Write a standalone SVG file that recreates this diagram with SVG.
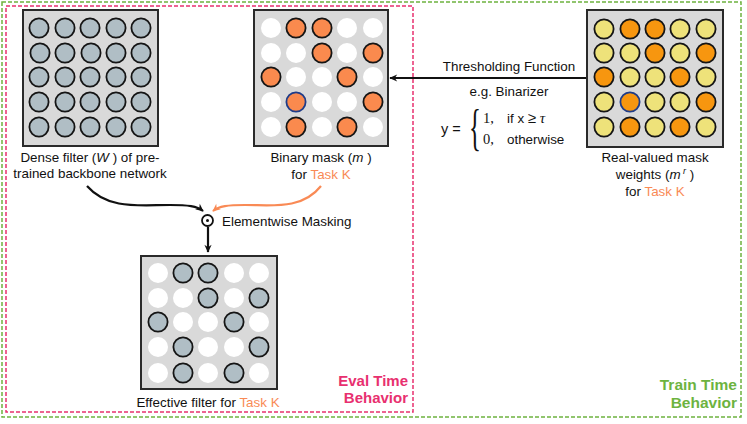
<svg xmlns="http://www.w3.org/2000/svg" width="747" height="424" viewBox="0 0 747 424">
<style>
text{font-family:"Liberation Sans","DejaVu Sans",sans-serif;font-size:13.4px;fill:#111}
.box{fill:#d9d9d9;stroke:#2a2a2a;stroke-width:2}
.g{fill:#b0bec5;stroke:#151515;stroke-width:1.8}
.w{fill:#ffffff}
.o{fill:#fa8a4e;stroke:#151515;stroke-width:1.8}
.ob{fill:#fa8a4e;stroke:#1f3c88;stroke-width:1.8}
.y{fill:#eee27a;stroke:#151515;stroke-width:1.8}
.r{fill:#f7960f;stroke:#151515;stroke-width:1.8}
.rb{fill:#f7960f;stroke:#1f3c88;stroke-width:1.8}
.task{fill:#f98a55}
.serif{font-family:"Liberation Serif","DejaVu Serif",serif}
.it{font-style:italic}
.conn{fill:none;stroke-width:2.2}
.ev{font-weight:bold;fill:#e8306f;font-size:15px}
.tr{font-weight:bold;fill:#6db33f;font-size:15.5px}
</style>
<defs>
<marker id="ab" viewBox="0 0 10 10" refX="9" refY="5" markerWidth="8" markerHeight="8" orient="auto" markerUnits="userSpaceOnUse" style="overflow:visible">
<path d="M0,0.5 L10,5 L0,9.5 L3,5 z" fill="#111"/>
</marker>
<marker id="ao" viewBox="0 0 10 10" refX="9" refY="5" markerWidth="8" markerHeight="8" orient="auto" markerUnits="userSpaceOnUse" style="overflow:visible">
<path d="M0,0.5 L10,5 L0,9.5 L3,5 z" fill="#f98a55"/>
</marker>
</defs>
<rect width="747" height="424" fill="#ffffff"/>
<g id="train-region">
<rect x="2" y="2" width="739" height="415" fill="none" stroke="#6db33f" stroke-width="1.5" stroke-dasharray="4,2"/>
<text x="737" y="390" text-anchor="end" class="tr">Train Time</text>
<text x="737" y="408" text-anchor="end" class="tr">Behavior</text>
</g>
<g id="eval-region">
<rect x="6" y="6" width="407" height="406" fill="none" stroke="#e8306f" stroke-width="1.5" stroke-dasharray="4,2"/>
<text x="408" y="386" text-anchor="end" class="ev">Eval Time</text>
<text x="408" y="403" text-anchor="end" class="ev">Behavior</text>
</g>
<g id="dense-filter">
<rect class="box" x="23" y="10" width="135" height="136"/>
<g>
<circle class="g" cx="39" cy="28" r="9.6"/><circle class="g" cx="65" cy="28" r="9.6"/><circle class="g" cx="90" cy="28" r="9.6"/><circle class="g" cx="116" cy="28" r="9.6"/><circle class="g" cx="141" cy="28" r="9.6"/>
<circle class="g" cx="40" cy="53" r="9.6"/><circle class="g" cx="65" cy="53" r="9.6"/><circle class="g" cx="91" cy="53" r="9.6"/><circle class="g" cx="116" cy="53" r="9.6"/><circle class="g" cx="141" cy="53" r="9.6"/>
<circle class="g" cx="39" cy="77" r="9.6"/><circle class="g" cx="65" cy="77" r="9.6"/><circle class="g" cx="90" cy="77" r="9.6"/><circle class="g" cx="116" cy="77" r="9.6"/><circle class="g" cx="141" cy="77" r="9.6"/>
<circle class="g" cx="39" cy="102" r="9.6"/><circle class="g" cx="65" cy="102" r="9.6"/><circle class="g" cx="90" cy="102" r="9.6"/><circle class="g" cx="116" cy="102" r="9.6"/><circle class="g" cx="141" cy="102" r="9.6"/>
<circle class="g" cx="39" cy="127" r="9.6"/><circle class="g" cx="65" cy="127" r="9.6"/><circle class="g" cx="90" cy="127" r="9.6"/><circle class="g" cx="116" cy="127" r="9.6"/><circle class="g" cx="141" cy="127" r="9.6"/>
</g>
<text x="90" y="162" text-anchor="middle">Dense filter (<tspan class="it">W</tspan> ) of pre-</text>
<text x="90" y="178" text-anchor="middle">trained backbone network</text>
</g>
<g id="binary-mask">
<rect class="box" x="254" y="10" width="134" height="136"/>
<g>
<circle class="w" cx="271" cy="28" r="10"/><circle class="o" cx="296" cy="28" r="9.6"/><circle class="o" cx="322" cy="28" r="9.6"/><circle class="w" cx="347" cy="28" r="10"/><circle class="w" cx="373" cy="28" r="10"/>
<circle class="w" cx="271" cy="53" r="10"/><circle class="w" cx="296" cy="53" r="10"/><circle class="o" cx="322" cy="53" r="9.6"/><circle class="w" cx="347" cy="53" r="10"/><circle class="o" cx="373" cy="53" r="9.6"/>
<circle class="o" cx="271" cy="77" r="9.6"/><circle class="w" cx="296" cy="77" r="10"/><circle class="w" cx="322" cy="77" r="10"/><circle class="o" cx="347" cy="77" r="9.6"/><circle class="w" cx="373" cy="77" r="10"/>
<circle class="w" cx="271" cy="102" r="10"/><circle class="ob" cx="296" cy="102" r="9.6"/><circle class="w" cx="322" cy="102" r="10"/><circle class="w" cx="347" cy="102" r="10"/><circle class="o" cx="373" cy="102" r="9.6"/>
<circle class="w" cx="271" cy="127" r="10"/><circle class="o" cx="296" cy="127" r="9.6"/><circle class="w" cx="322" cy="127" r="10"/><circle class="o" cx="347" cy="127" r="9.6"/><circle class="w" cx="373" cy="127" r="10"/>
</g>
<text x="321" y="162" text-anchor="middle">Binary mask (<tspan class="it">m</tspan> )</text>
<text x="321" y="179" text-anchor="middle">for <tspan class="task">Task K</tspan></text>
</g>
<g id="real-mask">
<rect class="box" x="587" y="10" width="136" height="137"/>
<g>
<circle class="y" cx="604" cy="29" r="9.6"/><circle class="r" cx="630" cy="29" r="9.6"/><circle class="r" cx="655" cy="29" r="9.6"/><circle class="y" cx="680" cy="29" r="9.6"/><circle class="y" cx="706" cy="29" r="9.6"/>
<circle class="y" cx="604" cy="53" r="9.6"/><circle class="y" cx="630" cy="53" r="9.6"/><circle class="r" cx="655" cy="53" r="9.6"/><circle class="y" cx="680" cy="53" r="9.6"/><circle class="r" cx="706" cy="53" r="9.6"/>
<circle class="r" cx="604" cy="77" r="9.6"/><circle class="y" cx="630" cy="77" r="9.6"/><circle class="y" cx="655" cy="77" r="9.6"/><circle class="r" cx="680" cy="77" r="9.6"/><circle class="y" cx="706" cy="77" r="9.6"/>
<circle class="y" cx="604" cy="102" r="9.6"/><circle class="rb" cx="630" cy="102" r="9.6"/><circle class="y" cx="655" cy="102" r="9.6"/><circle class="y" cx="680" cy="102" r="9.6"/><circle class="r" cx="706" cy="102" r="9.6"/>
<circle class="y" cx="604" cy="127" r="9.6"/><circle class="r" cx="630" cy="127" r="9.6"/><circle class="y" cx="655" cy="127" r="9.6"/><circle class="r" cx="680" cy="127" r="9.6"/><circle class="y" cx="706" cy="127" r="9.6"/>
</g>
<text x="655" y="162" text-anchor="middle">Real-valued mask</text>
<text x="655" y="179" text-anchor="middle">weights (<tspan class="it">m</tspan><tspan class="it" dy="-5" style="font-size:9px"> r</tspan><tspan dy="5"> )</tspan></text>
<text x="655" y="196" text-anchor="middle">for <tspan class="task">Task K</tspan></text>
</g>
<g id="effective-filter">
<rect class="box" x="141" y="256" width="136" height="133"/>
<g>
<circle class="w" cx="158" cy="273" r="10"/><circle class="g" cx="183" cy="273" r="9.6"/><circle class="g" cx="208" cy="273" r="9.6"/><circle class="w" cx="234" cy="273" r="10"/><circle class="w" cx="259" cy="273" r="10"/>
<circle class="w" cx="158" cy="298" r="10"/><circle class="w" cx="183" cy="298" r="10"/><circle class="g" cx="208" cy="298" r="9.6"/><circle class="w" cx="234" cy="298" r="10"/><circle class="g" cx="259" cy="298" r="9.6"/>
<circle class="g" cx="158" cy="322" r="9.6"/><circle class="w" cx="183" cy="322" r="10"/><circle class="w" cx="208" cy="322" r="10"/><circle class="g" cx="234" cy="322" r="9.6"/><circle class="w" cx="259" cy="322" r="10"/>
<circle class="w" cx="158" cy="347" r="10"/><circle class="g" cx="183" cy="347" r="9.6"/><circle class="w" cx="208" cy="347" r="10"/><circle class="w" cx="234" cy="347" r="10"/><circle class="g" cx="259" cy="347" r="9.6"/>
<circle class="w" cx="158" cy="373" r="10"/><circle class="g" cx="183" cy="373" r="9.6"/><circle class="w" cx="208" cy="373" r="10"/><circle class="g" cx="234" cy="373" r="9.6"/><circle class="w" cx="259" cy="373" r="10"/>
</g>
<text x="208" y="407" text-anchor="middle">Effective filter for <tspan class="task">Task K</tspan></text>
</g>
<g id="masking-op">
<circle cx="207.5" cy="220.5" r="5.5" fill="#fff" stroke="#111" stroke-width="1.8"/>
<circle cx="207.5" cy="220.5" r="1.5" fill="#111"/>
<text x="222" y="226">Elementwise Masking</text>
</g>
<g id="threshold-label">
<text x="509" y="71" text-anchor="middle">Thresholding Function</text>
<text x="509" y="96" text-anchor="middle">e.g. Binarizer</text>
<text x="441" y="134" style="font-size:14.5px">y =</text>
<text class="serif" transform="translate(469,144) scale(0.75,1.55)" style="font-size:33px">{</text>
<text class="serif" x="483" y="123" style="font-size:14.5px">1,</text>
<text x="507" y="123">if x <tspan style="font-size:15px">≥</tspan> <tspan class="serif it" style="font-size:15px">τ</tspan></text>
<text class="serif" x="483" y="144" style="font-size:14.5px">0,</text>
<text x="507" y="144">otherwise</text>
</g>
<g id="connectors">
<path class="conn" d="M586,78 L390,78" stroke="#111" marker-end="url(#ab)"/>
<path class="conn" d="M87,186 C108,210 140,205 170,205 C188,205 197,206 203,211" stroke="#111" marker-end="url(#ab)"/>
<path class="conn" d="M321,186 C302,210 272,205 245,205 C228,205 219,206 213,211" stroke="#f98a55" marker-end="url(#ao)"/>
<path class="conn" d="M208,227 L208,252" stroke="#111" marker-end="url(#ab)"/>
</g>
</svg>
